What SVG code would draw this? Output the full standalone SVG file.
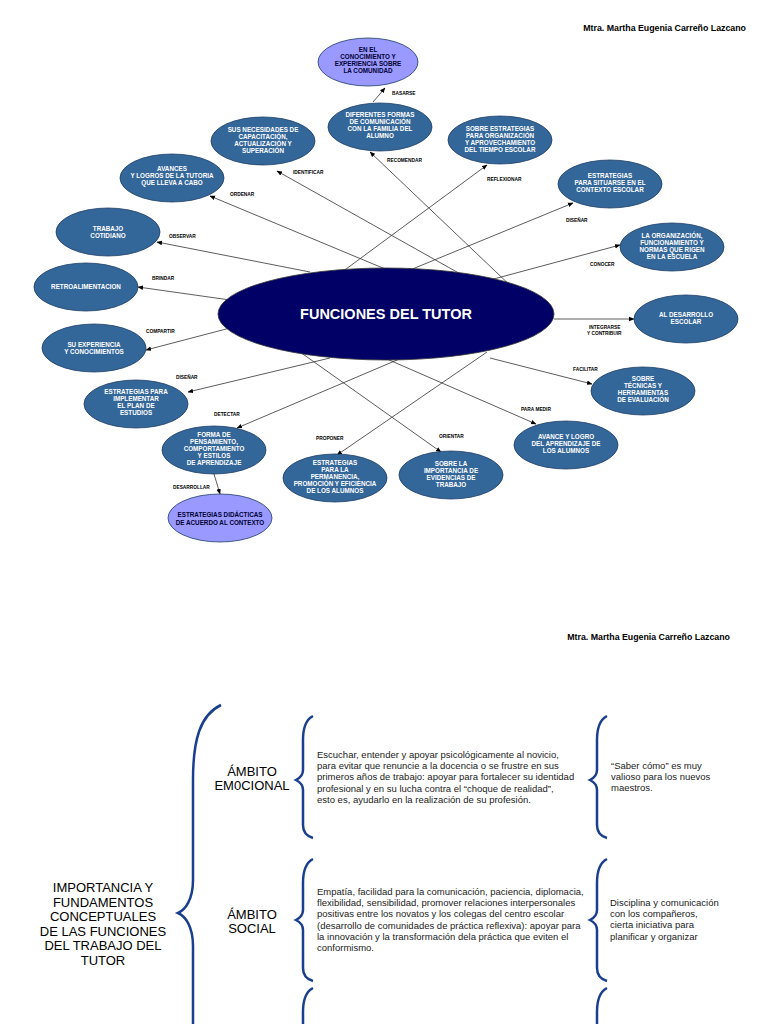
<svg xmlns="http://www.w3.org/2000/svg" width="768" height="1024" viewBox="0 0 768 1024">
<style>
.n{fill:#336699;stroke:#1f3f66;stroke-width:0.8}
.p{fill:#9999ff;stroke:#1f3f66;stroke-width:0.8}
.t{font-family:"Liberation Sans",Arial,sans-serif;font-weight:bold;font-size:6.3px;fill:#fff;text-anchor:middle}
.tp{fill:#000033}
.l{font-family:"Liberation Sans",Arial,sans-serif;font-weight:bold;font-size:4.8px;fill:#000}
.c line{stroke:#333;stroke-width:0.8;marker-end:url(#a)}
.h{font-family:"Liberation Sans",Arial,sans-serif;font-weight:bold;font-size:8.8px;fill:#000;text-anchor:end}
.b{fill:none;stroke:#1a3f8f;stroke-width:2.5}
.x{font-family:"Liberation Sans",Arial,sans-serif;font-size:9.5px;fill:#222}
.m{font-family:"Liberation Sans",Arial,sans-serif;font-size:13px;fill:#000;text-anchor:middle}
</style>
<defs><marker id="a" viewBox="0 0 10 10" refX="9" refY="5" markerWidth="7" markerHeight="7" orient="auto"><path d="M0,1 L10,5 L0,9z" fill="#000"/></marker></defs>
<rect width="768" height="1024" fill="#fff"/>
<text class="h" x="746" y="31">Mtra. Martha Eugenia Carreño Lazcano</text>
<text class="h" x="730" y="640">Mtra. Martha Eugenia Carreño Lazcano</text>

<g class="c" id="connectors">
<line x1="373" y1="102" x2="385" y2="88"/>
<line x1="515" y1="290" x2="370" y2="152"/>
<line x1="480" y1="285" x2="277" y2="171"/>
<line x1="342" y1="272" x2="487" y2="165"/>
<line x1="390" y1="271" x2="210" y2="196"/>
<line x1="410" y1="270" x2="573" y2="203"/>
<line x1="490" y1="280" x2="620" y2="245"/>
<line x1="310" y1="272" x2="157" y2="242"/>
<line x1="230" y1="300" x2="138" y2="287"/>
<line x1="554" y1="319" x2="634" y2="319"/>
<line x1="230" y1="328" x2="146" y2="350"/>
<line x1="330" y1="358" x2="188" y2="392"/>
<line x1="490" y1="358" x2="592" y2="384"/>
<line x1="380" y1="356" x2="536" y2="424"/>
<line x1="300" y1="352" x2="441" y2="452"/>
<line x1="487" y1="352" x2="337" y2="455"/>
<line x1="430" y1="346" x2="237" y2="428"/>
<line x1="214" y1="474" x2="220" y2="494"/>
</g>
<g class="l">
<text x="392" y="95">BASARSE</text>
<text x="387" y="162">RECOMENDAR</text>
<text x="293" y="174">IDENTIFICAR</text>
<text x="487" y="181">REFLEXIONAR</text>
<text x="230" y="196">ORDENAR</text>
<text x="566" y="222">DISEÑAR</text>
<text x="169" y="238">OBSERVAR</text>
<text x="590" y="266">CONOCER</text>
<text x="152" y="280">BRINDAR</text>
<text x="146" y="333">COMPARTIR</text>
<text x="589" y="329">INTEGRARSE</text>
<text x="587" y="335">Y CONTRIBUIR</text>
<text x="176" y="379">DISEÑAR</text>
<text x="573" y="371">FACILITAR</text>
<text x="214" y="416">DETECTAR</text>
<text x="521" y="411">PARA MEDIR</text>
<text x="316" y="440">PROPONER</text>
<text x="439" y="438">ORIENTAR</text>
<text x="173" y="489">DESARROLLAR</text>
</g>

<g id="central"><ellipse cx="386" cy="314" rx="168" ry="46" fill="#000066" stroke="#333" stroke-width="0.8"/>
<text x="386" y="319" font-family="Liberation Sans,Arial,sans-serif" font-weight="bold" font-size="14.5" fill="#fff" text-anchor="middle">FUNCIONES DEL TUTOR</text></g>

<g id="n1"><ellipse class="p" cx="368" cy="62" rx="50" ry="24"/><text class="t tp" x="368" y="52">EN EL<tspan x="368" dy="7">CONOCIMIENTO Y</tspan><tspan x="368" dy="7">EXPERIENCIA SOBRE</tspan><tspan x="368" dy="7">LA COMUNIDAD</tspan></text></g>
<g id="n2"><ellipse class="n" cx="380" cy="127" rx="52" ry="24"/><text class="t" x="380" y="117">DIFERENTES FORMAS<tspan x="380" dy="7">DE COMUNICACIÓN</tspan><tspan x="380" dy="7">CON LA FAMILIA DEL</tspan><tspan x="380" dy="7">ALUMNO</tspan></text></g>
<g id="n3"><ellipse class="n" cx="263" cy="141" rx="52" ry="24"/><text class="t" x="263" y="132">SUS NECESIDADES DE<tspan x="263" dy="7">CAPACITACIÓN,</tspan><tspan x="263" dy="7">ACTUALIZACIÓN Y</tspan><tspan x="263" dy="7">SUPERACIÓN</tspan></text></g>
<g id="n4"><ellipse class="n" cx="500" cy="140" rx="52" ry="24"/><text class="t" x="500" y="131">SOBRE  ESTRATEGIAS<tspan x="500" dy="7">PARA ORGANIZACIÓN</tspan><tspan x="500" dy="7">Y APROVECHAMIENTO</tspan><tspan x="500" dy="7">DEL TIEMPO ESCOLAR</tspan></text></g>
<g id="n5"><ellipse class="n" cx="172" cy="178" rx="52" ry="24"/><text class="t" x="172" y="171">AVANCES<tspan x="172" dy="7">Y LOGROS DE LA TUTORIA</tspan><tspan x="172" dy="7">QUE LLEVA A CABO</tspan></text></g>
<g id="n6"><ellipse class="n" cx="610" cy="184" rx="52" ry="24"/><text class="t" x="610" y="178">ESTRATEGIAS<tspan x="610" dy="7">PARA SITUARSE EN EL</tspan><tspan x="610" dy="7">CONTEXTO ESCOLAR</tspan></text></g>
<g id="n7"><ellipse class="n" cx="108" cy="232" rx="52" ry="24"/><text class="t" x="108" y="231">TRABAJO<tspan x="108" dy="7">COTIDIANO</tspan></text></g>
<g id="n8"><ellipse class="n" cx="672" cy="247" rx="52" ry="24"/><text class="t" x="672" y="238">LA ORGANIZACIÓN,<tspan x="672" dy="7">FUNCIONAMIENTO Y</tspan><tspan x="672" dy="7">NORMAS  QUE RIGEN</tspan><tspan x="672" dy="7">EN LA ESCUELA</tspan></text></g>
<g id="n9"><ellipse class="n" cx="86" cy="287" rx="52" ry="24"/><text class="t" x="86" y="289">RETROALIMENTACION</text></g>
<g id="n10"><ellipse class="n" cx="686" cy="319" rx="52" ry="24"/><text class="t" x="686" y="317">AL DESARROLLO<tspan x="686" dy="7">ESCOLAR</tspan></text></g>
<g id="n11"><ellipse class="n" cx="94" cy="348" rx="52" ry="24"/><text class="t" x="94" y="347">SU EXPERIENCIA<tspan x="94" dy="7">Y CONOCIMIENTOS</tspan></text></g>
<g id="n12"><ellipse class="n" cx="136" cy="404" rx="52" ry="24"/><text class="t" x="136" y="394">ESTRATEGIAS PARA<tspan x="136" dy="7">IMPLEMENTAR</tspan><tspan x="136" dy="7">EL PLAN DE</tspan><tspan x="136" dy="7">ESTUDIOS</tspan></text></g>
<g id="n13"><ellipse class="n" cx="643" cy="391" rx="52" ry="24"/><text class="t" x="643" y="381">SOBRE<tspan x="643" dy="7">TÉCNICAS Y</tspan><tspan x="643" dy="7">HERRAMIENTAS</tspan><tspan x="643" dy="7">DE EVALUACIÓN</tspan></text></g>
<g id="n14"><ellipse class="n" cx="566" cy="445" rx="52" ry="24"/><text class="t" x="566" y="439">AVANCE Y LOGRO<tspan x="566" dy="7">DEL APRENDIZAJE DE</tspan><tspan x="566" dy="7">LOS ALUMNOS</tspan></text></g>
<g id="n15"><ellipse class="n" cx="214" cy="450" rx="52" ry="24"/><text class="t" x="214" y="437">FORMA DE<tspan x="214" dy="7">PENSAMIENTO,</tspan><tspan x="214" dy="7">COMPORTAMIENTO</tspan><tspan x="214" dy="7">Y ESTILOS</tspan><tspan x="214" dy="7">DE APRENDIZAJE</tspan></text></g>
<g id="n16"><ellipse class="n" cx="335" cy="478" rx="52" ry="24"/><text class="t" x="335" y="465">ESTRATEGIAS<tspan x="335" dy="7">PARA LA</tspan><tspan x="335" dy="7">PERMANENCIA,</tspan><tspan x="335" dy="7">PROMOCIÓN Y EFICIENCIA</tspan><tspan x="335" dy="7">DE LOS ALUMNOS</tspan></text></g>
<g id="n17"><ellipse class="n" cx="451" cy="475" rx="52" ry="24"/><text class="t" x="451" y="466">SOBRE LA<tspan x="451" dy="7">IMPORTANCIA DE</tspan><tspan x="451" dy="7">EVIDENCIAS DE</tspan><tspan x="451" dy="7">TRABAJO</tspan></text></g>
<g id="n18"><ellipse class="p" cx="220" cy="518" rx="52" ry="24"/><text class="t tp" x="220" y="517">ESTRATEGIAS DIDÁCTICAS<tspan x="220" dy="8">DE ACUERDO AL CONTEXTO</tspan></text></g>

<path class="b" d="M221,705 C200,715 193,740 193,780 L193,880 C193,900 185,910 178,913 C185,916 193,926 193,946 L193,1024"/>
<path class="b" d="M313,716 C305,720 303,730 303,740 L303,770 C303,775 300,778 296,780 C300,782 303,785 303,790 L303,825 C303,832 306,836 313,838"/>
<path class="b" d="M607,716 C599,720 597,730 597,740 L597,770 C597,775 594,778 590,780 C594,782 597,785 597,790 L597,825 C597,832 600,836 607,838"/>
<path class="b" d="M313,859 C305,863 303,873 303,883 L303,910 C303,915 300,918 296,920 C300,922 303,925 303,930 L303,968 C303,975 306,979 313,981"/>
<path class="b" d="M607,859 C599,863 597,873 597,883 L597,910 C597,915 594,918 590,920 C594,922 597,925 597,930 L597,968 C597,975 600,979 607,981"/>
<path class="b" d="M313,988 C305,992 303,1002 303,1012 L303,1024"/>
<path class="b" d="M607,988 C599,992 597,1002 597,1012 L597,1024"/>

<text class="m" x="103" y="892">IMPORTANCIA Y<tspan x="103" dy="14.5">FUNDAMENTOS</tspan><tspan x="103" dy="14.5">CONCEPTUALES</tspan><tspan x="103" dy="14.5">DE LAS FUNCIONES</tspan><tspan x="103" dy="14.5">DEL TRABAJO DEL</tspan><tspan x="103" dy="14.5">TUTOR</tspan></text>
<text class="m" x="252" y="776">ÁMBITO<tspan x="252" dy="14">EM0CIONAL</tspan></text>
<text class="m" x="252" y="919">ÁMBITO<tspan x="252" dy="14">SOCIAL</tspan></text>
<text class="x" x="317" y="758">Escuchar, entender y apoyar psicológicamente al novicio,<tspan x="317" dy="11.2">para evitar que renuncie a la docencia o se frustre en sus</tspan><tspan x="317" dy="11.2">primeros años de trabajo: apoyar para fortalecer su identidad</tspan><tspan x="317" dy="11.2">profesional y en su lucha contra el “choque de realidad”,</tspan><tspan x="317" dy="11.2">esto es, ayudarlo en la realización de su profesión.</tspan></text>
<text class="x" x="317" y="895">Empatía, facilidad para la comunicación, paciencia, diplomacia,<tspan x="317" dy="11.2">flexibilidad, sensibilidad, promover relaciones interpersonales</tspan><tspan x="317" dy="11.2">positivas entre los novatos y los colegas del centro escolar</tspan><tspan x="317" dy="11.2">(desarrollo de comunidades de práctica reflexiva): apoyar para</tspan><tspan x="317" dy="11.2">la innovación y la transformación dela práctica que eviten el</tspan><tspan x="317" dy="11.2">conformismo.</tspan></text>
<text class="x" x="611" y="769">“Saber cómo” es muy<tspan x="611" dy="11.2">valioso para los nuevos</tspan><tspan x="611" dy="11.2">maestros.</tspan></text>
<text class="x" x="610" y="906">Disciplina y comunicación<tspan x="610" dy="11.2">con los compañeros,</tspan><tspan x="610" dy="11.2">cierta iniciativa para</tspan><tspan x="610" dy="11.2">planificar y organizar</tspan></text>
</svg>
